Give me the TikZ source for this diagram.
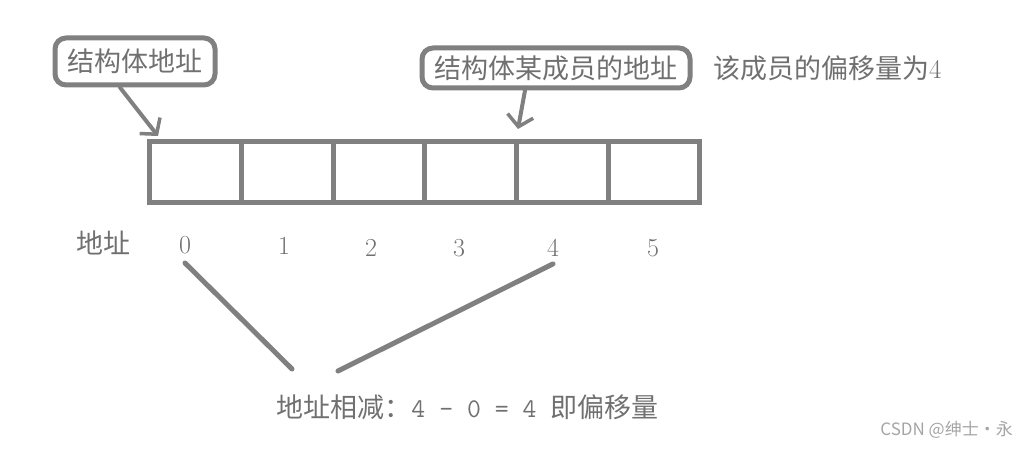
\documentclass[tikz,border=0pt]{standalone}
\usepackage{fontspec}
\usepackage{tikz}
\usetikzlibrary{arrows.meta, positioning, calc}
\newfontfamily\cjk{Noto Sans CJK SC}
\definecolor{linegray}{RGB}{128,128,128}
\definecolor{textgray}{RGB}{112,112,112}
\definecolor{markgray}{RGB}{165,165,165}
\newcommand{\LabelSize}{\fontsize{27}{32}\selectfont}
\tikzset{
    cell/.style={draw=linegray, line width=5pt, minimum width=91.67pt, minimum height=61pt, inner sep=0pt},
    tag/.style={draw=linegray, line width=5pt, rounded corners=11pt, inner sep=0pt, text=textgray, font=\LabelSize\cjk},
    plain/.style={text=textgray, font=\LabelSize\cjk, inner sep=0pt},
    digit/.style={text=textgray, font=\fontsize{26}{30}\selectfont, inner sep=2pt},
    arr/.style={draw=linegray, line width=4pt, line cap=round, -{Straight Barb[length=11pt, width=26pt, line width=3.5pt]}},
    stroke/.style={draw=linegray, line width=5pt, line cap=round},
}
\begin{document}
\begin{tikzpicture}[x=1pt, y=-1pt]
    \useasboundingbox (0,0) rectangle (1029,449);

    \node[tag, minimum width=160pt, minimum height=47pt] (sa) at (135,61.5) {结构体地址};
    \node[tag, minimum width=268pt, minimum height=40pt] (ma) at (556,68) {结构体某成员的地址};
    \node[plain, anchor=west] (off) at (713,68) {该成员的偏移量为{\rmfamily 4}};

    \foreach \i in {0,...,5}
      \node[cell] (c\i) at ({195.8+91.67*\i},172) {};

    \coordinate (t0) at (158,136);
    \coordinate (t4) at (518,129);
    \draw[arr] ([xshift=-15pt]sa.south) -- (t0);
    \draw[arr] ([xshift=-31pt]ma.south) -- (t4);

    \node[plain] (addr) at (103,243) {地址};
    \foreach \i/\x/\y in {0/185/245, 1/284/246, 2/371/248, 3/459/248, 4/553/248, 5/653/248}
      \node[digit] (d\i) at (\x,\y) {\i};

    \coordinate (m1) at (292,369);
    \coordinate (m2) at (338,371);
    \draw[stroke] ([yshift=-7pt]d0.south) -- (m1);
    \draw[stroke] ([yshift=-5pt]d4.south) -- (m2);

    \node[plain] (diff) at (467.5,407) {地址相减：{\ttfamily 4 - 0 = 4 }即偏移量};

    \node[text=markgray, font=\fontsize{17}{20}\selectfont\cjk, anchor=east, inner sep=0pt] (mark) at (1013,430) {CSDN @绅士·永};
\end{tikzpicture}
\end{document}
